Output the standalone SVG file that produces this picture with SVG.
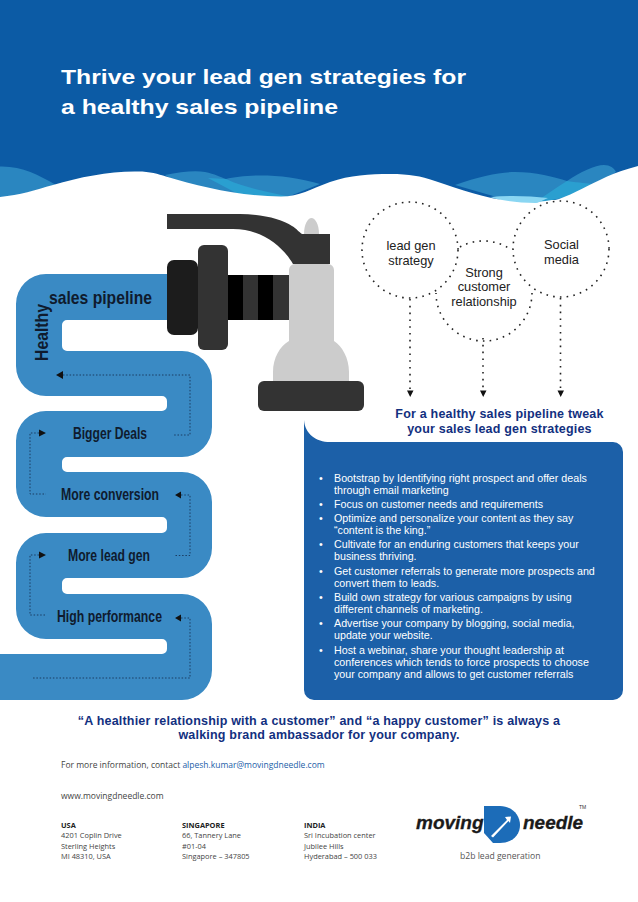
<svg xmlns="http://www.w3.org/2000/svg" width="638" height="902" viewBox="0 0 638 902">
<style>
text{font-family:"Liberation Sans",Arial,sans-serif}
.h{font-weight:700;fill:#fff;font-size:21px}
.p{font-weight:700;fill:#0f1b2e;font-size:16px}
.c{fill:#222;font-size:12.800px;text-anchor:middle}
.q{font-weight:700;fill:#12307f;text-anchor:middle;font-size:12.500px;letter-spacing:.2px}
.b{fill:#fff;font-size:10.700px}
.f{font-family:"Open Sans",sans-serif;fill:#444;font-size:8.500px}
.a{font-family:"Open Sans",sans-serif;fill:#444;font-size:7.400px}
.fb{font-family:"Open Sans",sans-serif;fill:#222;font-size:7.400px;font-weight:700}
.l{font-size:19px;font-weight:700;font-style:italic;fill:#1a1a1a;stroke:#1a1a1a;stroke-width:.3}
.dot{fill:none;stroke:#222;stroke-width:1.600;stroke-dasharray:1.600 5.200}
.d2{fill:none;stroke:#1b3d63;stroke-width:1;stroke-dasharray:1.500 1.800}
.ar{fill:#111}
</style>
<rect width="638" height="902" fill="#fff"/>
<g id="header">
<rect width="638" height="200" fill="#0c5ba5"/>
<path d="M0,166.600C22,166 38,175 56,185L0,200Z" fill="#2a86c0"/>
<path d="M165,175C180,172 195,170 205,172C215,174 220,177 226,179C245,174 285,173 320,184L285,198L190,190Z" fill="#2a86c0"/>
<path d="M208,178L226,179C245,188 265,191 290,197L240,195Z" fill="#2a9fd0"/>
<path d="M455,185C480,176 500,172 515,172C535,172 555,177 567,181C580,172 595,165 604,165C610,165 614,168 616,172L575,200L500,198Z" fill="#2a86c0"/>
<path d="M567,181C580,183 588,183 592,184C580,192 565,200 535,202C545,196 555,188 567,181Z" fill="#2a9fd0"/>
<path d="M490,197C510,195 530,196 548,198L535,204L510,203Z" fill="#8ad6f2"/>
<path d="M0,197C20,195 35,190 53,185C80,177 110,171 138,171.500C150,171.500 158,174 166,176.500C200,187 240,196 281,196.500C300,196.500 310,189 330,182C350,175 370,174 390,174C410,174 420,176 435,181C470,193 500,203 535,203C570,203 590,178 638,166V902H0Z" fill="#fff"/>
<text class="h" x="61" y="84" textLength="405" lengthAdjust="spacingAndGlyphs">Thrive your lead gen strategies for</text>
<text class="h" x="61" y="114" textLength="277" lengthAdjust="spacingAndGlyphs">a healthy sales pipeline</text>
</g>
<g id="pipeline">
<path fill="#3a8ac4" d="M167,274H46A30,30 0 0 0 16,304V366A30,30 0 0 0 46,396H162A5,5 0 0 1 167,401V406A5,5 0 0 1 162,411H46A30,30 0 0 0 16,441V487A30,30 0 0 0 46,517H162A5,5 0 0 1 167,522V528A5,5 0 0 1 162,533H46A30,30 0 0 0 16,563V609A30,30 0 0 0 46,639H162A5,5 0 0 1 167,644V649A5,5 0 0 1 162,654H0V700H182A30,30 0 0 0 212,670V624A30,30 0 0 0 182,594H67A5,5 0 0 1 62,589V583A5,5 0 0 1 67,578H182A30,30 0 0 0 212,548V502A30,30 0 0 0 182,472H67A5,5 0 0 1 62,467V462A5,5 0 0 1 67,457H182A30,30 0 0 0 212,427V381A30,30 0 0 0 182,351H67A5,5 0 0 1 62,346V325A5,5 0 0 1 67,320H167Z"/>
<text class="p" x="49" y="304" style="font-size:19px" textLength="103" lengthAdjust="spacingAndGlyphs">sales pipeline</text>
<text class="p" transform="translate(47.500 361) rotate(-90)" style="font-size:19px" textLength="57" lengthAdjust="spacingAndGlyphs">Healthy</text>
<text class="p" x="73" y="439" textLength="74" lengthAdjust="spacingAndGlyphs">Bigger Deals</text>
<text class="p" x="61" y="500" textLength="98" lengthAdjust="spacingAndGlyphs">More conversion</text>
<text class="p" x="68" y="561" textLength="82" lengthAdjust="spacingAndGlyphs">More lead gen</text>
<text class="p" x="57" y="622" textLength="105" lengthAdjust="spacingAndGlyphs">High performance</text>
</g>
<g id="sprayer">
<path fill="#333" d="M167,214H240C262,214 282,219 292,226C297,229 299,232 302,234H330V264H293C285,250 265,229 233,229H167Z"/>
<path fill="#ccc" d="M304,234C304,224 308,218 311.500,218C315,218 319,224 319,234Z"/>
<rect x="228" y="275" width="15" height="45" fill="#000"/>
<rect x="243" y="275" width="15" height="45" fill="#333"/>
<rect x="258" y="275" width="15" height="45" fill="#000"/>
<rect x="273" y="275" width="16" height="45" fill="#333"/>
<rect x="167" y="260" width="31" height="75" rx="7" fill="#1c1c1c"/>
<rect x="198" y="245" width="30" height="105" rx="6" fill="#333"/>
<path fill="#ccc" d="M295,264H328A6,6 0 0 1 334,270V341C342,346 349,358 349,372V384H273V372C273,358 280,346 289,341V270A6,6 0 0 1 295,264Z"/>
<rect x="258" y="381" width="106" height="30" rx="6" fill="#333"/>
</g>
<g id="node-lead-gen"><circle class="dot" cx="410" cy="250" r="48"/><text class="c" x="411" y="250">lead gen</text><text class="c" x="411" y="265">strategy</text></g>
<g id="node-relationship"><path class="dot" d="M460,247A48,48 0 0 1 510,249M532,293A48,48 0 0 1 436,293"/><text class="c" x="484" y="277">Strong</text><text class="c" x="484" y="291">customer</text><text class="c" x="484" y="306">relationship</text></g>
<g id="node-social"><circle class="dot" cx="561" cy="249" r="48"/><text class="c" x="561.500" y="249">Social</text><text class="c" x="561.500" y="264">media</text></g>
<g id="connectors">
<path class="dot" d="M410,299V390M483,338V390M560.500,298V390"/>
<path class="ar" d="M407,390.500H413.500L410.200,397ZM480,390.500H486.500L483.200,397ZM557.500,390.500H564L560.700,397Z"/>
<path class="d2" d="M63,375H190V435H174"/>
<path class="d2" d="M39,433H30V494H46"/>
<path class="d2" d="M181,495H190V555.500H174"/>
<path class="d2" d="M39,555H30V615H46"/>
<path class="d2" d="M181,618H190V678H32"/>
<path class="ar" d="M56,375L63,371V379ZM46,433L39,429.500V436.500ZM175,495L181,491.500V498.500ZM46,555L39,551.500V558.500ZM175,618L181,614.500V621.500Z"/>
</g>
<g id="panel">
<text class="q" x="499.500" y="418">For a healthy sales pipeline tweak</text>
<text class="q" x="499.500" y="433">your sales lead gen strategies</text>
<path fill="#1c60a8" d="M304,420C305,434 316,442 330,442H613A10,10 0 0 1 623,452V690A10,10 0 0 1 613,700H314A10,10 0 0 1 304,690Z"/>
<text class="b" x="319" y="482">•</text><text class="b" x="334" y="482">Bootstrap by Identifying right prospect and offer deals</text>
<text class="b" x="334" y="494">through email marketing</text>
<text class="b" x="319" y="508">•</text><text class="b" x="334" y="508">Focus on customer needs and requirements</text>
<text class="b" x="319" y="522">•</text><text class="b" x="334" y="522">Optimize and personalize your content as they say</text>
<text class="b" x="334" y="534">“content is the king.”</text>
<text class="b" x="319" y="548">•</text><text class="b" x="334" y="548">Cultivate for an enduring customers that keeps your</text>
<text class="b" x="334" y="560">business thriving.</text>
<text class="b" x="319" y="575">•</text><text class="b" x="334" y="575">Get customer referrals to generate more prospects and</text>
<text class="b" x="334" y="587">convert them to leads.</text>
<text class="b" x="319" y="601">•</text><text class="b" x="334" y="601">Build own strategy for various campaigns by using</text>
<text class="b" x="334" y="613">different channels of marketing.</text>
<text class="b" x="319" y="627">•</text><text class="b" x="334" y="627">Advertise your company by blogging, social media,</text>
<text class="b" x="334" y="639">update your website.</text>
<text class="b" x="319" y="654">•</text><text class="b" x="334" y="654">Host a webinar, share your thought leadership at</text>
<text class="b" x="334" y="666">conferences which tends to force prospects to choose</text>
<text class="b" x="334" y="678">your company and allows to get customer referrals</text>
</g>
<g id="quote">
<text class="q" x="319" y="725">“A healthier relationship with a customer” and “a happy customer” is always a</text>
<text class="q" x="319" y="739">walking brand ambassador for your company.</text>
</g>
<g id="footer">
<text class="f" x="61" y="768">For more information, contact <tspan fill="#1c60a8">alpesh.kumar@movingdneedle.com</tspan></text>
<text class="f" x="61" y="799">www.movingdneedle.com</text>
<text class="fb" x="61" y="828">USA</text><text class="a" x="61" y="838">4201 Coplin Drive</text><text class="a" x="61" y="848.500">Sterling Heights</text><text class="a" x="61" y="858.500">MI 48310, USA</text>
<text class="fb" x="182" y="828">SINGAPORE</text><text class="a" x="182" y="838">66, Tannery Lane</text><text class="a" x="182" y="848.500">#01-04</text><text class="a" x="182" y="858.500">Singapore – 347805</text>
<text class="fb" x="304" y="828">INDIA</text><text class="a" x="304" y="838">Sri Incubation center</text><text class="a" x="304" y="848.500">Jubilee Hills</text><text class="a" x="304" y="858.500">Hyderabad – 500 033</text>
</g>
<g id="logo">
<path fill="#1c6cb8" d="M484,806H500C512,806 520,815 520,825C520,836 511,843 500,843H493L484,833Z"/>
<path fill="#fff" d="M491,836L507,820L505,817L511,816.500L510,823L508.500,821L493,837.500Z"/>
<text class="l" x="416" y="829">moving</text>
<text class="l" x="523" y="829">needle</text>
<text x="579" y="809" style="font-size:5px;fill:#333">TM</text>
<text x="460" y="859" style="font-family:'Open Sans',sans-serif;font-size:8.600px;fill:#555">b2b lead generation</text>
</g>
</svg>
